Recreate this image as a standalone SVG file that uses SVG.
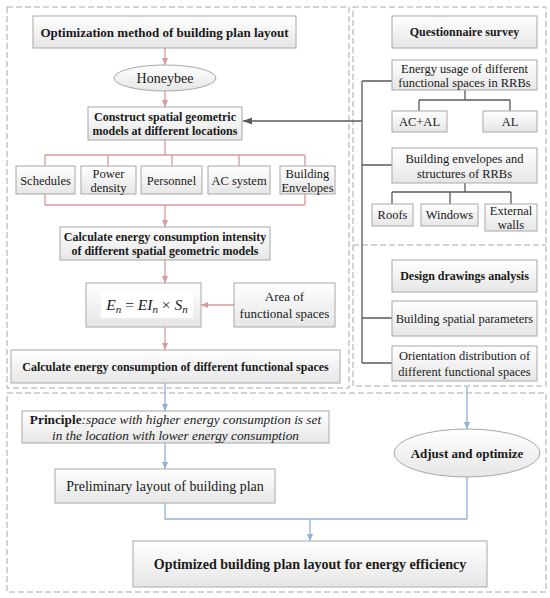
<svg xmlns="http://www.w3.org/2000/svg" width="550" height="598" viewBox="0 0 550 598">
<defs>
<linearGradient id="g" x1="0" y1="0" x2="0" y2="1">
<stop offset="0" stop-color="#ffffff"/>
<stop offset="1" stop-color="#e6e6e6"/>
</linearGradient>
<marker id="ap" markerWidth="8" markerHeight="8" refX="7" refY="4" orient="auto" markerUnits="userSpaceOnUse">
<path d="M0,1 L7,4 L0,7 Z" fill="#d99a9a"/>
</marker>
<marker id="ab" markerWidth="8" markerHeight="8" refX="7" refY="4" orient="auto" markerUnits="userSpaceOnUse">
<path d="M0,1 L7,4 L0,7 Z" fill="#8fb1d9"/>
</marker>
<marker id="ag" markerWidth="10" markerHeight="10" refX="9" refY="5" orient="auto" markerUnits="userSpaceOnUse">
<path d="M0,1.5 L9,5 L0,8.5 Z" fill="#5a5a5a"/>
</marker>
</defs>
<style>
.box{fill:url(#g);stroke:#a8a8a8;stroke-width:1}
.dash{fill:none;stroke:#a8a8a8;stroke-width:1;stroke-dasharray:6,3}
.t{font-family:"Liberation Serif","Times New Roman",serif;font-size:12.5px;fill:#1a1a1a;text-anchor:middle}
.b{font-weight:bold;font-size:12px}
.pk{fill:none;stroke:#d99a9a;stroke-width:1.3}
.bl{fill:none;stroke:#8fb1d9;stroke-width:1.3}
.gr{fill:none;stroke:#5a5a5a;stroke-width:1.3}
</style>

<g id="frames">
<rect class="dash" x="7" y="7" width="342" height="381"/>
<rect class="dash" x="353" y="7" width="193" height="379"/>
<line class="dash" x1="353" y1="245" x2="546" y2="245"/>
<rect class="dash" x="7" y="393" width="539" height="199"/>
</g>

<g id="connectors">
<line class="pk" x1="165" y1="48" x2="165" y2="65" marker-end="url(#ap)"/>
<line class="pk" x1="165" y1="91" x2="165" y2="107" marker-end="url(#ap)"/>
<path class="pk" d="M165,140 V155 M45,155 H305 M45,155 V166 M108,155 V166 M172,155 V166 M239,155 V166 M305,155 V166"/>
<path class="pk" d="M45,194 V205 M305,194 V205 M45,205 H305"/>
<line class="pk" x1="165" y1="205" x2="165" y2="227" marker-end="url(#ap)"/>
<line class="pk" x1="165" y1="260" x2="165" y2="283" marker-end="url(#ap)"/>
<line class="pk" x1="234" y1="305" x2="201" y2="305" marker-end="url(#ap)"/>
<line class="pk" x1="165" y1="327" x2="165" y2="350" marker-end="url(#ap)"/>

<path class="gr" d="M362,81 V363 M362,81 H392 M362,165 H392 M362,318 H392 M362,363 H392"/>
<line class="gr" x1="362" y1="121" x2="243" y2="121" marker-end="url(#ag)"/>
<path class="gr" d="M465,90 V100 M419,100 H510 M419,100 V111 M510,100 V111"/>
<path class="gr" d="M465,183 V192 M392,192 H511 M392,192 V204 M450,192 V204 M511,192 V204"/>

<line class="bl" x1="165" y1="383" x2="165" y2="411" marker-end="url(#ab)"/>
<line class="bl" x1="165" y1="443" x2="165" y2="469" marker-end="url(#ab)"/>
<path class="bl" d="M165,503 V519 H467 M467,477 V519"/>
<line class="bl" x1="310" y1="519" x2="310" y2="541" marker-end="url(#ab)"/>
<line class="bl" x1="467" y1="387" x2="467" y2="429" marker-end="url(#ab)"/>
</g>

<g id="title">
<rect class="box" x="33" y="16" width="263" height="32"/>
<text class="t b" x="164.5" y="37" style="font-size:13px">Optimization method of building plan layout</text>
</g>
<g id="honeybee">
<ellipse class="box" cx="165" cy="78" rx="51" ry="13"/>
<text class="t" x="165" y="83" style="font-size:14px">Honeybee</text>
</g>
<g id="construct">
<rect class="box" x="88" y="107" width="154" height="33"/>
<text class="t b" x="165" y="121">Construct spatial geometric</text>
<text class="t b" x="165" y="135">models at different locations</text>
</g>
<g id="schedules">
<rect class="box" x="16" y="166" width="59" height="28"/>
<text class="t" x="45.5" y="185">Schedules</text>
</g>
<g id="power">
<rect class="box" x="81" y="166" width="55" height="28"/>
<text class="t" x="108.5" y="178">Power</text>
<text class="t" x="108.5" y="192">density</text>
</g>
<g id="personnel">
<rect class="box" x="141" y="166" width="61" height="28"/>
<text class="t" x="171.5" y="185">Personnel</text>
</g>
<g id="acsystem">
<rect class="box" x="208" y="166" width="62" height="28"/>
<text class="t" x="239" y="185">AC system</text>
</g>
<g id="envelopes">
<rect class="box" x="280" y="166" width="55" height="28"/>
<text class="t" x="307.5" y="178">Building</text>
<text class="t" x="307.5" y="192">Envelopes</text>
</g>
<g id="intensity">
<rect class="box" x="60" y="227" width="210" height="33"/>
<text class="t b" x="165" y="241">Calculate energy consumption intensity</text>
<text class="t b" x="165" y="255">of different spatial geometric models</text>
</g>
<g id="equation">
<rect class="box" x="86" y="283" width="115" height="44"/>
<rect x="101" y="290" width="92" height="28" fill="#ffffff"/>
<text class="t" x="147" y="310" style="font-size:15.5px;font-style:italic">E<tspan style="font-size:11px" dy="3">n</tspan><tspan dy="-3" style="font-style:normal"> = </tspan>EI<tspan style="font-size:11px" dy="3">n</tspan><tspan dy="-3" style="font-style:normal"> × </tspan>S<tspan style="font-size:11px" dy="3">n</tspan></text>
</g>
<g id="area">
<rect class="box" x="234" y="283" width="101" height="44"/>
<text class="t" x="284.5" y="301" style="font-size:13px">Area of</text>
<text class="t" x="284.5" y="318" style="font-size:13px">functional spaces</text>
</g>
<g id="consumption">
<rect class="box" x="11" y="350" width="329" height="33"/>
<text class="t b" x="175.5" y="371">Calculate energy consumption of different functional spaces</text>
</g>

<g id="questionnaire">
<rect class="box" x="392" y="16" width="145" height="32"/>
<text class="t b" x="464.5" y="36">Questionnaire survey</text>
</g>
<g id="energyusage">
<rect class="box" x="392" y="60" width="145" height="30"/>
<text class="t" x="464.5" y="73">Energy usage  of different</text>
<text class="t" x="464.5" y="87">functional spaces in RRBs</text>
</g>
<g id="acal">
<rect class="box" x="392" y="111" width="55" height="21"/>
<text class="t" x="419.5" y="126">AC+AL</text>
</g>
<g id="al">
<rect class="box" x="483" y="111" width="54" height="21"/>
<text class="t" x="510" y="126">AL</text>
</g>
<g id="structures">
<rect class="box" x="392" y="148" width="145" height="35"/>
<text class="t" x="464.5" y="163">Building envelopes and</text>
<text class="t" x="464.5" y="178">structures of RRBs</text>
</g>
<g id="roofs">
<rect class="box" x="372" y="204" width="41" height="22"/>
<text class="t" x="392.5" y="219">Roofs</text>
</g>
<g id="windows">
<rect class="box" x="421" y="204" width="57" height="22"/>
<text class="t" x="449.5" y="219">Windows</text>
</g>
<g id="walls">
<rect class="box" x="485" y="204" width="52" height="27"/>
<text class="t" x="511" y="215">External</text>
<text class="t" x="511" y="229">walls</text>
</g>
<g id="design">
<rect class="box" x="392" y="260" width="145" height="32"/>
<text class="t b" x="464.5" y="280">Design drawings analysis</text>
</g>
<g id="spatial">
<rect class="box" x="392" y="301" width="145" height="35"/>
<text class="t" x="464.5" y="323">Building spatial parameters</text>
</g>
<g id="orientation">
<rect class="box" x="392" y="346" width="145" height="35"/>
<text class="t" x="464.5" y="360">Orientation distribution of</text>
<text class="t" x="464.5" y="376">different functional spaces</text>
</g>

<g id="principle">
<rect class="box" x="22" y="411" width="307" height="32"/>
<text class="t" x="175.5" y="424" style="font-size:13.3px"><tspan style="font-weight:bold">Principle</tspan><tspan style="font-style:italic">:space with higher energy consumption is set</tspan></text>
<text class="t" x="175.5" y="440" style="font-size:13.3px;font-style:italic">in the location with lower energy consumption</text>
</g>
<g id="preliminary">
<rect class="box" x="55" y="469" width="220" height="34"/>
<text class="t" x="165" y="491" style="font-size:14px">Preliminary layout of building plan</text>
</g>
<g id="adjust">
<ellipse class="box" cx="467" cy="453" rx="73" ry="24"/>
<text class="t b" x="467" y="458" style="font-size:13px">Adjust and optimize</text>
</g>
<g id="optimized">
<rect class="box" x="133" y="541" width="354" height="46"/>
<text class="t b" x="310" y="569" style="font-size:14px">Optimized building plan layout  for energy efficiency</text>
</g>
</svg>
